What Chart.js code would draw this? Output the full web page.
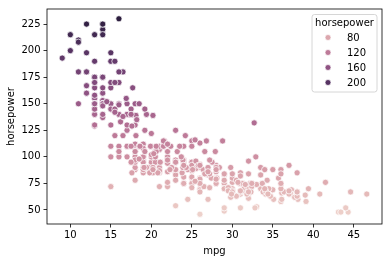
<!DOCTYPE html>
<html>
<head>
<meta charset="utf-8">
<script src="https://cdn.jsdelivr.net/npm/chart.js@4"></script>
<style>
  body { margin: 0; background: #fff; }
</style>
</head>
<body>
<canvas id="chart" width="389" height="262"></canvas>
<script>
// mpg / horsepower pairs
const mpg = [
  18, 15, 18, 16, 17, 15, 14, 14, 14, 15, 15, 14, 15, 14, 24, 22, 18, 21, 27, 26,
  25, 24, 25, 26, 21, 10, 10, 11, 9, 27, 28, 25, 19, 16, 17, 19, 18, 14, 14, 14,
  14, 12, 13, 13, 18, 22, 19, 18, 23, 28, 30, 30, 31, 35, 27, 26, 24, 25, 23, 20,
  21, 13, 14, 15, 14, 17, 11, 13, 12, 13, 19, 15, 13, 13, 14, 18, 22, 21, 26, 22,
  28, 23, 28, 27, 13, 14, 13, 14, 15, 12, 13, 13, 14, 13, 12, 13, 18, 16, 18, 18,
  23, 26, 11, 12, 13, 12, 18, 20, 21, 22, 18, 19, 21, 26, 15, 16, 29, 24, 20, 19,
  15, 24, 20, 11, 20, 19, 15, 31, 26, 32, 25, 16, 16, 18, 16, 13, 14, 14, 14, 29,
  26, 26, 31, 32, 28, 24, 26, 24, 26, 31, 19, 18, 15, 15, 16, 15, 16, 14, 17, 16,
  15, 18, 21, 20, 13, 29, 23, 20, 23, 24, 25, 24, 18, 29, 19, 23, 23, 22, 25, 33,
  28, 25, 25, 26, 27, 17.5, 16, 15.5, 14.5, 22, 22, 24, 22.5, 29, 24.5, 29, 33, 20, 18, 18.5,
  17.5, 29.5, 32, 28, 26.5, 20, 13, 19, 19, 16.5, 16.5, 13, 13, 13, 31.5, 30, 36, 25.5, 33.5, 17.5,
  17, 15.5, 15, 17.5, 20.5, 19, 18.5, 16, 15.5, 15.5, 16, 29, 24.5, 26, 25.5, 30.5, 33.5, 30, 30.5, 22,
  21.5, 21.5, 43.1, 36.1, 32.8, 39.4, 36.1, 19.9, 19.4, 20.2, 19.2, 20.5, 20.2, 25.1, 20.5, 19.4, 20.6, 20.8, 18.6, 18.1,
  19.2, 17.7, 18.1, 17.5, 30, 27.5, 27.2, 30.9, 21.1, 23.2, 23.8, 23.9, 20.3, 17, 21.6, 16.2, 31.5, 29.5, 21.5, 19.8,
  22.3, 20.2, 20.6, 17, 17.6, 16.5, 18.2, 16.9, 15.5, 19.2, 18.5, 31.9, 34.1, 35.7, 27.4, 25.4, 23, 27.2, 23.9, 34.2,
  34.5, 31.8, 37.3, 28.4, 28.8, 26.8, 33.5, 41.5, 38.1, 32.1, 37.2, 28, 26.4, 24.3, 19.1, 34.3, 29.8, 31.3, 37, 32.2,
  46.6, 27.9, 40.8, 44.3, 43.4, 36.4, 30, 44.6, 33.8, 29.8, 32.7, 23.7, 35, 32.4, 27.2, 26.6, 25.8, 23.5, 30, 39.1,
  39, 35.1, 32.3, 37, 37.7, 34.1, 34.7, 34.4, 29.9, 33, 33.7, 32.4, 32.9, 31.6, 28.1, 30.7, 25.4, 24.2, 22.4, 26.6,
  20.2, 17.6, 28, 27, 34, 31, 29, 27, 24, 36, 37, 31, 38, 36, 36, 36, 34, 38, 32, 38,
  25, 38, 26, 22, 32, 36, 27, 27, 44, 32, 28, 31
];
const horsepower = [
  130, 165, 150, 150, 140, 198, 220, 215, 225, 190, 170, 160, 150, 225, 95, 95, 97, 85, 88, 46,
  87, 90, 95, 113, 90, 215, 200, 210, 193, 88, 90, 95, 100, 105, 100, 88, 100, 165, 175, 153,
  150, 180, 170, 175, 110, 72, 100, 88, 86, 90, 70, 76, 65, 69, 60, 70, 95, 80, 54, 90,
  86, 165, 175, 150, 153, 150, 208, 155, 160, 190, 97, 150, 130, 140, 150, 112, 76, 87, 69, 86,
  92, 97, 80, 88, 175, 150, 145, 137, 150, 198, 150, 158, 150, 215, 225, 175, 105, 100, 100, 88,
  95, 46, 150, 167, 170, 180, 100, 88, 72, 94, 90, 85, 107, 90, 145, 230, 49, 75, 91, 112,
  150, 110, 122, 180, 95, 100, 100, 67, 80, 65, 75, 100, 110, 105, 140, 150, 150, 140, 150, 83,
  67, 78, 52, 61, 75, 75, 75, 97, 93, 67, 95, 105, 72, 72, 170, 145, 150, 148, 110, 105,
  110, 95, 110, 110, 129, 75, 83, 100, 78, 96, 71, 97, 97, 70, 90, 95, 88, 98, 115, 53,
  86, 81, 92, 79, 83, 140, 150, 120, 152, 100, 105, 81, 90, 52, 60, 70, 53, 100, 78, 110,
  95, 71, 70, 75, 72, 102, 150, 88, 108, 120, 180, 145, 130, 150, 68, 80, 58, 96, 70, 145,
  110, 145, 130, 110, 105, 100, 98, 180, 170, 190, 149, 78, 88, 75, 89, 63, 83, 67, 78, 97,
  110, 110, 48, 66, 52, 70, 60, 110, 140, 139, 105, 95, 85, 88, 100, 90, 105, 85, 110, 120,
  145, 165, 139, 140, 68, 95, 97, 75, 95, 105, 85, 97, 103, 125, 115, 133, 71, 68, 115, 85,
  88, 90, 110, 130, 129, 138, 135, 155, 142, 125, 150, 71, 65, 80, 80, 77, 125, 71, 90, 70,
  70, 65, 69, 90, 115, 115, 90, 76, 60, 70, 65, 90, 88, 90, 90, 78, 90, 75, 92, 75,
  65, 105, 65, 48, 48, 67, 67, 67, 67, 62, 132, 100, 88, 72, 84, 84, 92, 110, 84, 58,
  64, 60, 67, 65, 62, 68, 63, 65, 65, 74, 75, 75, 100, 74, 80, 76, 116, 120, 110, 105,
  88, 85, 88, 88, 88, 85, 84, 90, 92, 74, 68, 68, 63, 70, 88, 75, 70, 67, 67, 67,
  110, 85, 92, 112, 96, 84, 90, 86, 52, 84, 79, 82
];
const xTicks = [10, 15, 20, 25, 30, 35, 40, 45];
const yTicks = [50, 75, 100, 125, 150, 175, 200, 225];
const legendValues = [80, 120, 160, 200];

// seaborn default "ch:" cubehelix palette, light -> dark
function cubehelix(v) {
  const i = Math.min(255, Math.floor(v * 256));
  const x = 0.85 + (0.15 - 0.85) * i / 255;
  const a = 0.8 * x * (1 - x) / 2;
  const phi = 2 * Math.PI * (0.4 * x);
  const c = Math.cos(phi), s = Math.sin(phi);
  const ch = (p0, p1) => Math.round(255 * Math.max(0, Math.min(1, x + a * (p0 * c + p1 * s))));
  return `rgb(${ch(-0.14861, 1.78277)},${ch(-0.29227, -0.90649)},${ch(1.97294, 0)})`;
}
const hpMin = Math.min(...horsepower), hpMax = Math.max(...horsepower);
const colorFor = hp => cubehelix((hp - hpMin) / (hpMax - hpMin));

const points = mpg.map((m, i) => ({ x: m, y: horsepower[i] }));
const font = { family: "DejaVu Sans", size: 10 };

const frameAndLegend = {
  id: "frameAndLegend",
  afterDatasetsDraw(chart) {
    const { ctx, chartArea: a } = chart;
    ctx.save();
    ctx.strokeStyle = "#000";
    ctx.lineWidth = 0.8;
    ctx.strokeRect(a.left, a.top, a.right - a.left, a.bottom - a.top);

    // legend box, top right inside axes
    const bx = a.right - 70, by = a.top + 5.5, bw = 65, bh = 77.5;
    ctx.beginPath();
    ctx.roundRect(bx, by, bw, bh, 2.5);
    ctx.fillStyle = "rgba(255,255,255,0.8)";
    ctx.fill();
    ctx.strokeStyle = "#cccccc";
    ctx.stroke();
    ctx.fillStyle = "#000";
    ctx.font = "10px 'DejaVu Sans'";
    ctx.textBaseline = "middle";
    ctx.textAlign = "center";
    ctx.fillText("horsepower", bx + bw / 2, by + 9);
    ctx.textAlign = "left";
    legendValues.forEach((v, k) => {
      const y = by + 23 + k * 15;
      ctx.beginPath();
      ctx.arc(bx + 16, y, 3, 0, Math.PI * 2);
      ctx.fillStyle = colorFor(v);
      ctx.fill();
      ctx.strokeStyle = "#fff";
      ctx.lineWidth = 0.75;
      ctx.stroke();
      ctx.fillStyle = "#000";
      ctx.fillText(String(v), bx + 35, y + 0.5);
    });
    ctx.restore();
  }
};

new Chart(document.getElementById("chart"), {
  type: "scatter",
  data: {
    datasets: [{
      label: "horsepower",
      data: points,
      backgroundColor: horsepower.map(colorFor),
      borderColor: "#fff",
      borderWidth: 0.75,
      pointRadius: 3.1,
      pointHoverRadius: 3.1
    }]
  },
  options: {
    responsive: false,
    animation: false,
    devicePixelRatio: 1,
    layout: { autoPadding: false, padding: { left: 0, right: 7, top: 6, bottom: 0 } },
    plugins: { legend: { display: false }, tooltip: { enabled: false } },
    scales: {
      x: {
        type: "linear",
        min: 7.12,
        max: 48.48,
        afterFit: s => { s.height = 38; },
        afterBuildTicks: s => { s.ticks = xTicks.map(v => ({ value: v })); },
        border: { display: false },
        grid: { drawOnChartArea: false, tickLength: 3.5, color: "#000", lineWidth: 0.8 },
        ticks: { font, color: "#000", padding: 2, maxRotation: 0 },
        title: { display: true, text: "mpg", font, color: "#000", padding: { top: 0, bottom: 5 } }
      },
      y: {
        type: "linear",
        min: 36.8,
        max: 239.2,
        afterFit: s => { s.width = 47; },
        afterBuildTicks: s => { s.ticks = yTicks.map(v => ({ value: v })); },
        border: { display: false },
        grid: { drawOnChartArea: false, tickLength: 3.5, color: "#000", lineWidth: 0.8 },
        ticks: { font, color: "#000", padding: 3 },
        title: { display: true, text: "horsepower", font, color: "#000", padding: { top: 5, bottom: 0 } }
      }
    }
  },
  plugins: [frameAndLegend]
});
</script>
</body>
</html>
